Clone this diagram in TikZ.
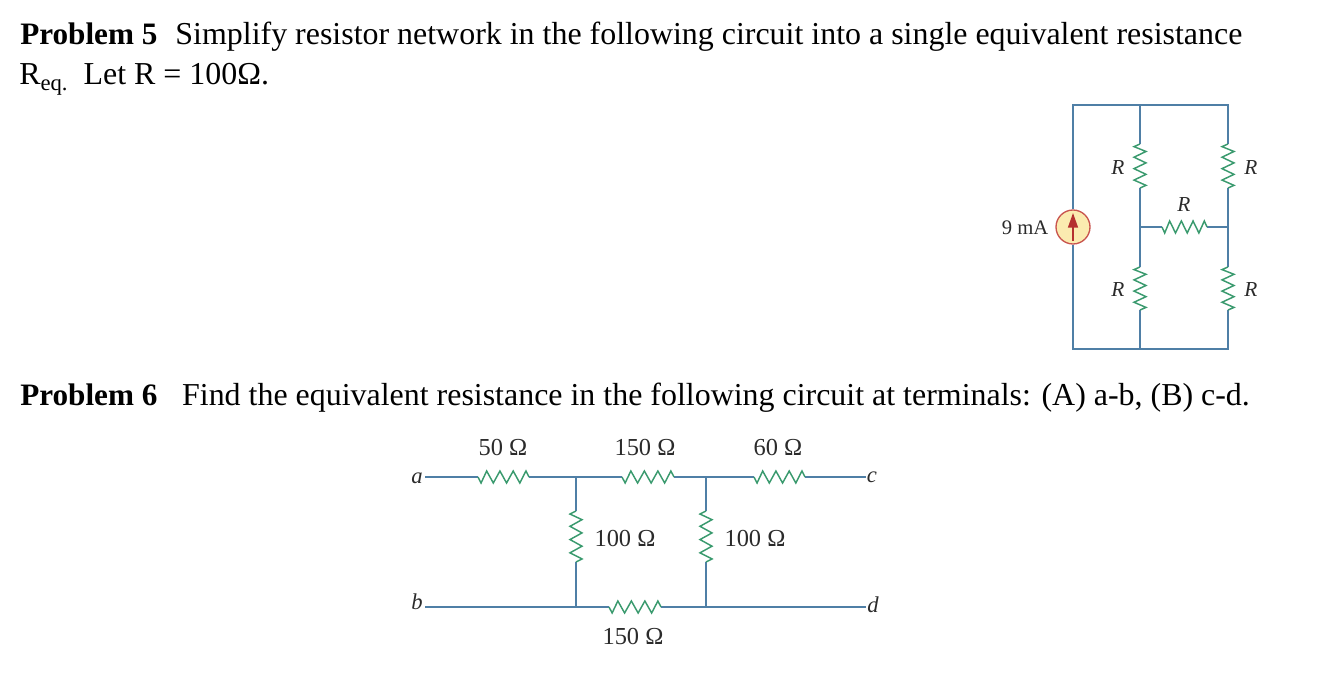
\documentclass[tikz,border=0pt]{standalone}
\usepackage{fontspec}
\setmainfont{Liberation Serif}
\usetikzlibrary{calc,arrows.meta}
\definecolor{wirec}{HTML}{4F7FA6}
\definecolor{resc}{HTML}{3A9A6E}
\definecolor{srcfill}{HTML}{FBEBB0}
\definecolor{srcring}{HTML}{C9554F}
\definecolor{srcarrow}{HTML}{B5302F}
\definecolor{textc}{HTML}{2B2B2B}
\newcommand{\zigp}[2]{($(\tikztostart)!#1!(\tikztotarget)!#2!90:(\tikztotarget)$)}
\tikzset{
  x=0.75pt,y=-0.75pt,
  wire/.style={draw=wirec,line width=0.95pt},
  resistor/.style={draw=resc,line width=1.1pt,line join=miter,
    to path={-- \zigp{0.06}{-4.5pt} -- \zigp{0.17}{4.5pt} -- \zigp{0.30}{-4.5pt} -- \zigp{0.43}{4.5pt} -- \zigp{0.56}{-4.5pt} -- \zigp{0.69}{4.5pt} -- \zigp{0.82}{-4.5pt} -- \zigp{0.94}{4.5pt} -- (\tikztotarget)}},
  heading/.style={anchor=base west,inner sep=0pt,font=\fontsize{23.95pt}{28pt}\selectfont,text=black},
  value/.style={anchor=center,inner sep=0pt,font=\fontsize{18.3pt}{20pt}\selectfont,text=textc},
  rlabel/.style={anchor=center,inner sep=0pt,font=\fontsize{16pt}{18pt}\selectfont\itshape,text=textc},
  termlabel/.style={anchor=center,inner sep=0pt,font=\fontsize{17pt}{20pt}\selectfont\itshape,text=textc},
  source/.style={circle,draw=srcring,fill=srcfill,line width=1pt,minimum size=25.5pt,inner sep=0pt},
}
\begin{document}
\begin{tikzpicture}
\useasboundingbox (0,0) rectangle (1318,674);
% Headings
\node[heading] (h1) at (20,45) {{\fontsize{23.4pt}{28pt}\selectfont\textbf{Problem 5}}\hspace{13.5pt}Simplify resistor network in the following circuit into a single equivalent resistance};
\node[heading] (h2) at (19,85) {R\raisebox{-4pt}{\fontsize{17pt}{18pt}\selectfont eq.}\hspace{12pt}Let R = 100Ω.};
\node[heading] (h3) at (20,405) {{\fontsize{23.4pt}{28pt}\selectfont\textbf{Problem 6}}\hspace{18.5pt}Find the equivalent resistance in the following circuit at terminals: (A) a-b, (B) c-d.};
% Problem 5 circuit
\coordinate (tl) at (1073,105);
\coordinate (tm) at (1140,105);
\coordinate (tr) at (1228,105);
\coordinate (bl) at (1073,349);
\coordinate (bm) at (1140,349);
\coordinate (br) at (1228,349);
\coordinate (jm) at (1140,227);
\coordinate (jr) at (1228,227);
\coordinate (r1a) at (1140,144);
\coordinate (r1b) at (1140,188);
\coordinate (r2a) at (1228,144);
\coordinate (r2b) at (1228,188);
\coordinate (r3a) at (1140,267);
\coordinate (r3b) at (1140,310);
\coordinate (r4a) at (1228,267);
\coordinate (r4b) at (1228,310);
\coordinate (r5a) at (1162,227);
\coordinate (r5b) at (1207,227);
\node[source] (src) at (1073,227) {};
\coordinate (arrtail) at (1073,241);
\coordinate (arrhead) at (1073,213);
\draw[srcarrow,line width=1.1pt,-{Triangle[length=11pt,width=7.5pt]}] (arrtail) -- (arrhead);
\draw[wire,line join=miter] (src) -- (tl) -- (tr) -- (r2a);
\draw[wire,line join=miter] (src) -- (bl) -- (br) -- (r4b);
\draw[wire] (tm) -- (r1a);
\draw[wire] (r1b) -- (r3a);
\draw[wire] (r3b) -- (bm);
\draw[wire] (r2b) -- (r4a);
\draw[wire] (jm) -- (r5a);
\draw[wire] (r5b) -- (jr);
\draw[resistor] (r1a) to (r1b);
\draw[resistor] (r2a) to (r2b);
\draw[resistor] (r3a) to (r3b);
\draw[resistor] (r4a) to (r4b);
\draw[resistor] (r5a) to (r5b);
\node[value,font=\fontsize{15.5pt}{18pt}\selectfont] (lsrc) at (1025,228) {9 mA};
\node[rlabel] (l1) at (1118,168) {R};
\node[rlabel] (l2) at (1251,168) {R};
\node[rlabel] (l3) at (1118,290) {R};
\node[rlabel] (l4) at (1251,290) {R};
\node[rlabel] (l5) at (1184,205) {R};
% Problem 6 circuit
\node[termlabel] (ta) at (417,478) {a};
\node[termlabel] (tb) at (417,602) {b};
\node[termlabel] (tc) at (872,477) {c};
\node[termlabel] (td) at (873,605) {d};
\coordinate (wa) at (425,477);
\coordinate (wb) at (425,607);
\coordinate (wc) at (866,477);
\coordinate (wd) at (866,607);
\coordinate (j1t) at (576,477);
\coordinate (j1b) at (576,607);
\coordinate (j2t) at (706,477);
\coordinate (j2b) at (706,607);
\coordinate (a1) at (478,477);
\coordinate (a2) at (529,477);
\coordinate (b1) at (622,477);
\coordinate (b2) at (674,477);
\coordinate (c1) at (754,477);
\coordinate (c2) at (805,477);
\coordinate (d1) at (609,607);
\coordinate (d2) at (661,607);
\coordinate (e1) at (576,511);
\coordinate (e2) at (576,562);
\coordinate (f1) at (706,511);
\coordinate (f2) at (706,562);
\draw[wire] (wa) -- (a1);
\draw[wire] (a2) -- (b1);
\draw[wire] (b2) -- (c1);
\draw[wire] (c2) -- (wc);
\draw[wire] (wb) -- (d1);
\draw[wire] (d2) -- (wd);
\draw[wire] (j1t) -- (e1);
\draw[wire] (e2) -- (j1b);
\draw[wire] (j2t) -- (f1);
\draw[wire] (f2) -- (j2b);
\draw[resistor] (a1) to (a2);
\draw[resistor] (b1) to (b2);
\draw[resistor] (c1) to (c2);
\draw[resistor] (d1) to (d2);
\draw[resistor] (e1) to (e2);
\draw[resistor] (f1) to (f2);
\node[value] (v1) at (503,448) {50 Ω};
\node[value] (v2) at (645,448) {150 Ω};
\node[value] (v3) at (778,448) {60 Ω};
\node[value] (v4) at (625,539) {100 Ω};
\node[value] (v5) at (755,539) {100 Ω};
\node[value] (v6) at (633,637) {150 Ω};
\end{tikzpicture}
\end{document}
